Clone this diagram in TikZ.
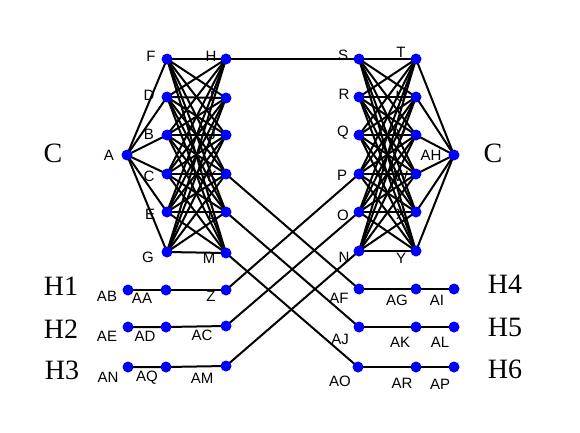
\documentclass[tikz,border=0pt]{standalone}
\usepackage{fontspec}
\setmainfont{Liberation Sans}
\newfontfamily\labfont{Liberation Sans}
\newfontfamily\bigserif{Liberation Serif}
\pgfdeclarelayer{labels}
\pgfdeclarelayer{edges}
\pgfsetlayers{labels,edges,main}
\begin{document}
\begin{tikzpicture}[x=1pt,y=-1pt,
  dot/.style={circle,fill=blue,inner sep=0pt,minimum size=11pt},
  lab/.style={inner sep=0pt,font=\labfont\fontsize{15}{15}\selectfont},
  big/.style={inner sep=0pt,font=\bigserif\fontsize{28}{28}\selectfont},
  edge/.style={line width=2pt,black}]
\useasboundingbox (0,0) rectangle (580,432);
% dots (named nodes)
\node[dot] (A) at (127,155) {};
\node[dot] (F) at (167,59) {};  \node[dot] (D) at (167,97) {};  \node[dot] (B) at (167,135) {};
\node[dot] (C) at (167,174) {}; \node[dot] (E) at (167,212) {}; \node[dot] (G) at (167,252) {};
\node[dot] (H) at (226,59) {};  \node[dot] (I) at (226,98) {};  \node[dot] (J) at (226,135) {};
\node[dot] (K) at (226,174) {}; \node[dot] (L) at (226,212) {}; \node[dot] (M) at (226,253) {};
\node[dot] (S) at (359,59) {};  \node[dot] (R) at (359,97) {};  \node[dot] (Q) at (359,135) {};
\node[dot] (P) at (359,174) {}; \node[dot] (O) at (359,212) {}; \node[dot] (N) at (359,251) {};
\node[dot] (T) at (416,59) {};  \node[dot] (U) at (416,97) {};  \node[dot] (V) at (416,135) {};
\node[dot] (W) at (416,174) {}; \node[dot] (X) at (416,212) {}; \node[dot] (Y) at (416,251) {};
\node[dot] (AH) at (454,155) {};
\node[dot] (AB) at (128,290) {}; \node[dot] (AA) at (166,290) {}; \node[dot] (Z) at (226,290) {};
\node[dot] (AE) at (128,327) {}; \node[dot] (AD) at (166,327) {}; \node[dot] (AC) at (226,326) {};
\node[dot] (AN) at (128,367) {}; \node[dot] (AQ) at (166,367) {}; \node[dot] (AM) at (226,366) {};
\node[dot] (AF) at (359,289) {}; \node[dot] (AG) at (416,289) {}; \node[dot] (AI) at (454,289) {};
\node[dot] (AJ) at (359,327) {}; \node[dot] (AK) at (416,327) {}; \node[dot] (AL) at (454,327) {};
\node[dot] (AO) at (358,367) {}; \node[dot] (AR) at (416,367) {}; \node[dot] (AP) at (454,367) {};
% labels
\begin{pgfonlayer}{labels}
\fill[white] (0,0) rectangle (580,432);
\node[lab] (lA) at (109,155) {A};
\node[lab] (lF) at (151,56) {F};
\node[lab] (lD) at (149,95) {D};
\node[lab] (lB) at (149,134) {B};
\node[lab] (lC) at (149,176) {C};
\node[lab] (lE) at (150,214) {E};
\node[lab] (lG) at (148,257) {G};
\node[lab] (lH) at (211,56) {H};
\node[lab] (lI) at (212,96) {I};
\node[lab] (lJ) at (212,134) {J};
\node[lab] (lK) at (212,176) {K};
\node[lab] (lL) at (212,214) {L};
\node[lab] (lM) at (209,258) {M};
\node[lab] (lS) at (343,55) {S};
\node[lab] (lR) at (344,94) {R};
\node[lab] (lQ) at (343,133) {Q};
\node[lab] (lP) at (342,175) {P};
\node[lab] (lO) at (343,215) {O};
\node[lab] (lN) at (344,257) {N};
\node[lab] (lT) at (401,52) {T};
\node[lab] (lU) at (401,96) {U};
\node[lab] (lV) at (401,134) {V};
\node[lab] (lW) at (401,176) {W};
\node[lab] (lX) at (401,214) {X};
\node[lab] (lY) at (401,258) {Y};
\node[lab] (lAH) at (431,155) {AH};
\node[lab] (lAB) at (107,296) {AB};
\node[lab] (lAA) at (142,298) {AA};
\node[lab] (lZ) at (211,296) {Z};
\node[lab] (lAE) at (107,336) {AE};
\node[lab] (lAD) at (145,336) {AD};
\node[lab] (lAC) at (202,335) {AC};
\node[lab] (lAN) at (108,377) {AN};
\node[lab] (lAQ) at (147,378) {AQ};
\node[lab] (lAM) at (202,378) {AM};
\node[lab] (lAF) at (339,298) {AF};
\node[lab] (lAG) at (397,300) {AG};
\node[lab] (lAI) at (437,300) {AI};
\node[lab] (lAJ) at (340,339) {AJ};
\node[lab] (lAK) at (400,342) {AK};
\node[lab] (lAL) at (440,342) {AL};
\node[lab] (lAO) at (340,381) {AO};
\node[lab] (lAR) at (402,383) {AR};
\node[lab] (lAP) at (440,384) {AP};
% big labels
\node[big] (bC1) at (53,153) {C};
\node[big] (bC2) at (493,153) {C};
\node[big] (bH1) at (61,286) {H1};
\node[big] (bH2) at (61,329) {H2};
\node[big] (bH3) at (62,370) {H3};
\node[big] (bH4) at (505,284) {H4};
\node[big] (bH5) at (505,327) {H5};
\node[big] (bH6) at (505,369) {H6};
\end{pgfonlayer}
% edges
\begin{pgfonlayer}{edges}
\foreach \a in {F,D,B,C,E,G} {
  \draw[edge] (A.center) -- (\a.center);
  \foreach \b in {H,I,J,K,L,M} \draw[edge] (\a.center) -- (\b.center);
}
\foreach \a in {S,R,Q,P,O,N} {
  \foreach \b in {T,U,V,W,X,Y} \draw[edge] (\a.center) -- (\b.center);
}
\foreach \b in {T,U,V,W,X,Y} \draw[edge] (\b.center) -- (AH.center);
\draw[edge] (H.center) -- (S.center);
\draw[edge] (K.center) -- (AF.center);
\draw[edge] (L.center) -- (AJ.center);
\draw[edge] (M.center) -- (AO.center);
\draw[edge] (P.center) -- (Z.center);
\draw[edge] (O.center) -- (AC.center);
\draw[edge] (N.center) -- (AM.center);
\draw[edge] (AB.center) -- (AA.center) -- (Z.center);
\draw[edge] (AE.center) -- (AD.center) -- (AC.center);
\draw[edge] (AN.center) -- (AQ.center) -- (AM.center);
\draw[edge] (AF.center) -- (AG.center) -- (AI.center);
\draw[edge] (AJ.center) -- (AK.center) -- (AL.center);
\draw[edge] (AO.center) -- (AR.center) -- (AP.center);
\end{pgfonlayer}
\end{tikzpicture}
\end{document}
